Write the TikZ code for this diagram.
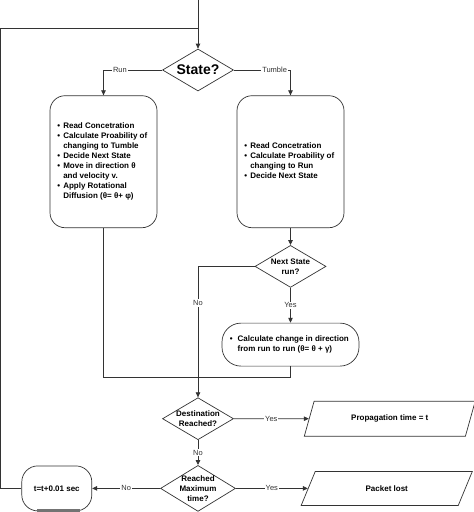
\documentclass[tikz,border=0pt]{standalone}
\usepackage{fontspec}
\setmainfont{Liberation Sans}
\usetikzlibrary{positioning,shapes.geometric,arrows.meta}

\begin{document}
\begin{tikzpicture}[
        x=1pt, y=1pt,
        node distance=20pt,
        every node/.style={font=\bfseries\fontsize{8}{10}\selectfont},
        box/.style={
            draw=black!80,
            line width=0.7pt,
            rectangle,
            rounded corners=15pt,
            align=left,
            minimum width=107pt,
            minimum height=132pt,
            inner sep=2pt
        },
        pill/.style={
            draw=black!80,
            line width=0.7pt,
            rectangle,
            rounded corners=19pt,
            align=left,
            inner sep=2pt
        },
        dec/.style={
            draw=black!80,
            line width=0.7pt,
            diamond,
            aspect=1.7,
            align=center,
            minimum width=71pt,
            minimum height=42pt,
            inner sep=-3pt
        },
        io/.style={
            draw=black!80,
            line width=0.7pt,
            trapezium,
            trapezium left angle=69,
            trapezium right angle=111,
            trapezium stretches=true,
            minimum width=172pt,
            minimum height=35pt
        },
        lab/.style={fill=white, inner sep=1pt, text=black!80,
            font=\fontsize{7.5}{9}\selectfont},
        line/.style={draw=black!80, line width=0.7pt},
        arrow/.style={line, -{Triangle[length=5pt,width=4.5pt]}}
    ]
    \useasboundingbox (0,0) rectangle (474,-512);

    % Row 1
    \coordinate (entry) at (198,0);
    \coordinate (loopL) at (0.5,-28);

    \node[dec, font=\bfseries\fontsize{14}{16}\selectfont] (state) at (198,-70) {State?};

    % Row 2
    \node[box] (run) [below=4pt of state, xshift=-94.5pt] {%
    \begin{tabular}{@{}c@{\hspace{3pt}}l@{}}
    \textbullet & Read Concetration\\
    \textbullet & Calculate Proability of\\
                & changing to Tumble\\
    \textbullet & Decide Next State\\
    \textbullet & Move in direction θ\\
                & and velocity v.\\
    \textbullet & Apply Rotational\\
                & Diffusion (θ= θ+ φ)
    \end{tabular}
    };

    \node[box] (tumble) [below=4pt of state, xshift=92.5pt] {%
    \begin{tabular}{@{}c@{\hspace{3pt}}l@{}}
    \textbullet & Read Concetration\\
    \textbullet & Calculate Proability of\\
                & changing to Run\\
    \textbullet & Decide Next State
    \end{tabular}
    };

    % Row 3
    \node[dec] (next) [below=17pt of tumble] {Next State\\run?};

    \node[pill, minimum width=137pt, minimum height=43pt] (turn) [below=35pt of next] {%
    \begin{tabular}{@{}c@{\hspace{5pt}}l@{}}
    \textbullet & Calculate change in direction\\
                & from run to run (θ= θ + γ)
    \end{tabular}
    };

    % Row 4
    \node[dec] (dest) [below=306pt of state] {Destination\\Reached?};

    \node[io] (prop) [right=75pt of dest] {Propagation time = t};

    % Row 5
    \node[dec, minimum width=75pt, minimum height=46pt] (maxt) [below=25pt of dest] {Reached\\Maximum\\time?};

    \node[io, minimum height=34pt] (lost) [right=72pt of maxt] {Packet lost};

    \node[pill, align=center, rounded corners=16pt, minimum width=70pt, minimum height=45pt] (tick) [left=68pt of maxt] {t=t+0.01 sec};

    \fill[black!55] (37,-509) rectangle (80,-513);

    % Arrows
    \draw[arrow] (entry) -- (state);
    \draw[line] (tick.west) -| (loopL) -- (loopL -| entry);
    \draw[arrow] (state.west) -| node[lab, pos=0.36] {Run} (run.north);
    \draw[arrow] (state.east) -| node[lab, pos=0.36] {Tumble} (tumble.north);
    \draw[arrow] (tumble) -- (next);
    \draw[arrow] (next.west) -| node[lab, pos=0.64] {No} (dest.north);
    \draw[arrow] (next) -- node[lab] {Yes} (turn);
    \draw[line] (turn.south) -- ++(0,-11pt) -| (run.south);
    \draw[arrow] (dest) -- node[lab] {Yes} (prop);
    \draw[arrow] (dest) -- node[lab] {No} (maxt);
    \draw[arrow] (maxt) -- node[lab] {Yes} (lost);
    \draw[arrow] (maxt) -- node[lab] {No} (tick);

    \end{tikzpicture}
\end{document}
